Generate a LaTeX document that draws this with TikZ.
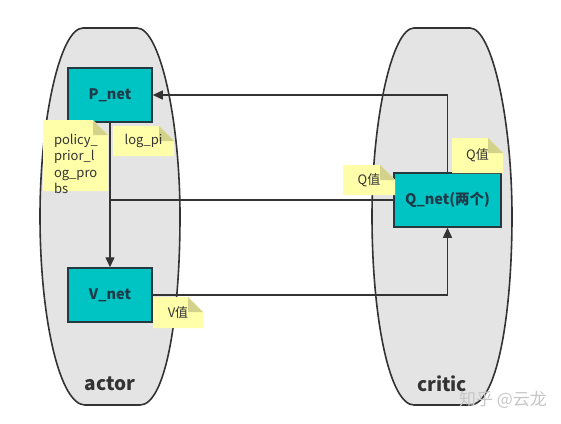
\documentclass[tikz,border=0pt]{standalone}
\usepackage{fontspec}
\setmainfont{Noto Sans CJK SC}
\usetikzlibrary{arrows.meta}
\definecolor{contfill}{HTML}{E4E4E4}
\definecolor{contline}{HTML}{333333}
\definecolor{netfill}{HTML}{00C4C4}
\definecolor{netline}{HTML}{243A40}
\definecolor{nettext}{HTML}{1E3A48}
\definecolor{notefill}{HTML}{FFFFAA}
\definecolor{foldfill}{HTML}{D2D28A}
\definecolor{wline}{HTML}{333333}
\tikzset{
  container/.style={fill=contfill, draw=contline, line width=1.6pt},
  netbox/.style={rectangle, fill=netfill, draw=netline, line width=1.5pt, inner sep=0pt,
    font=\bfseries\fontsize{14.5}{16}\selectfont, text=nettext},
  notefont/.style={font=\fontsize{13}{16.5}\selectfont, text=black!80},
  note/.style={rectangle, inner sep=0pt, notefont,
    path picture={
      \fill[notefill] (path picture bounding box.south west) -- (path picture bounding box.north west)
        -- ([xshift=-15pt]path picture bounding box.north east) -- ([yshift=-15pt]path picture bounding box.north east)
        -- (path picture bounding box.south east) -- cycle;
      \fill[foldfill] ([xshift=-15pt]path picture bounding box.north east)
        -- ([xshift=-15pt,yshift=-15pt]path picture bounding box.north east)
        -- ([yshift=-15pt]path picture bounding box.north east) -- cycle;
    }},
  conn/.style={draw=wline, line width=1.4pt},
  arr/.style={conn, -{Triangle[length=10pt,width=9pt]}},
  grouplabel/.style={font=\bfseries\fontsize{19}{22}\selectfont, text=black!80}
}
\begin{document}
\begin{tikzpicture}[x=1pt,y=-1pt]
\useasboundingbox[fill=white] (0,0) rectangle (561,423);
% containers
\path[container] (83,28) -- (137,28) .. controls (160,28) and (180,120) .. (180,216)
  .. controls (180,320) and (165,405) .. (140,405) -- (85,405)
  .. controls (60,405) and (40,320) .. (40,216)
  .. controls (40,120) and (60,28) .. (83,28) -- cycle;
\path[container] (414,28) -- (470,28) .. controls (492,28) and (512,120) .. (512,216)
  .. controls (512,320) and (496,405) .. (470,405) -- (414,405)
  .. controls (390,405) and (372,320) .. (372,216)
  .. controls (372,120) and (392,28) .. (414,28) -- cycle;
\node[grouplabel] (actor) at (110,384) {actor};
\node[grouplabel] (critic) at (442,384) {critic};
% nets
\node[netbox, minimum width=84pt, minimum height=54pt] (P) at (110,95) {P\_net};
\node[netbox, minimum width=84pt, minimum height=54pt] (V) at (110,295) {V\_net};
\node[netbox, minimum width=107pt, minimum height=54pt] (Q) at (447.5,200) {Q\_net(两个)};
% connectors
\draw[arr] (Q.north) |- (P.east);
\draw[arr] (P.south) -- (V.north);
\draw[conn] (P.south |- Q.west) -- (Q.west);
\draw[arr] (V.east) -| (Q.south);
% notes
\node[note, minimum width=65pt, minimum height=71pt,
  label={[anchor=north west, inner sep=0pt, align=left, notefont, xshift=11pt, yshift=-14pt]north west:{policy\_\\prior\_l\\og\_pro\\bs}}]
  (n1) at (75.5,155.5) {};
\node[note, minimum width=61pt, minimum height=30pt] (n2) at (143.5,141) {log\_pi};
\node[note, minimum width=52pt, minimum height=30pt] (n3) at (369,180) {Q值};
\node[note, minimum width=51pt, minimum height=35pt] (n4) at (477.5,155.5) {Q值};
\node[note, minimum width=50pt, minimum height=31pt] (n5) at (178,312.5) {V值};
% watermark
\node[font=\fontsize{17}{20}\selectfont, text=black!22] (wm) at (503,400) {知乎 @云龙};
\end{tikzpicture}
\end{document}
